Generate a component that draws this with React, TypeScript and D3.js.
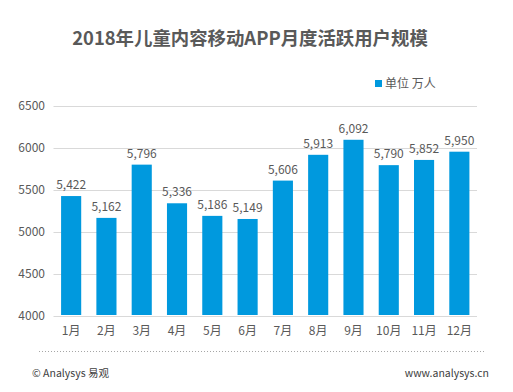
import React from "react";
import * as d3 from "d3";

const months = ["1月","2月","3月","4月","5月","6月","7月","8月","9月","10月","11月","12月"];
const values = [5422,5162,5796,5336,5186,5149,5606,5913,6092,5790,5852,5950];
const yTicks = [4000,4500,5000,5500,6000,6500];

export default function App() {
  const W = 513, H = 392;
  const left = 53.5, right = 477, top = 105.5, bottom = 315.5;
  const x = d3.scaleBand<string>().domain(months).range([left, right]).paddingInner(0.43).paddingOuter(0.215);
  const y = d3.scaleLinear().domain([4000, 6500]).range([bottom, top]);
  const fmt = d3.format(",");
  const font = "'Microsoft YaHei', 'Noto Sans CJK SC', 'DejaVu Sans', sans-serif";
  const grey = "#595959";
  return (
    <svg width={W} height={H} style={{ position: "absolute", left: 0, top: 0, background: "#fff" }} fontFamily={font}>
      <text x={250} y={45} textAnchor="middle" fontSize={18.4} fontWeight="bold" fill={grey}>2018年儿童内容移动APP月度活跃用户规模</text>
      <rect x={375} y={80} width={7} height={7} fill="#0099de" />
      <text x={385} y={88} fontSize={12} fill={grey}>单位  万人</text>
      {yTicks.map(t => (
        <g key={t}>
          <line x1={left} x2={right} y1={Math.round(y(t)) + 0.5} y2={Math.round(y(t)) + 0.5} stroke="#d9d9d9" strokeWidth={1} />
          <text x={45} y={y(t) + 4} textAnchor="end" fontSize={12} fill={grey}>{t}</text>
        </g>
      ))}
      {values.map((v, i) => (
        <g key={months[i]}>
          <rect x={x(months[i])} y={y(v)} width={x.bandwidth()} height={bottom - 0.5 - y(v)} fill="#0099de" />
          <text x={(x(months[i]) as number) + x.bandwidth() / 2} y={y(v) - 7} textAnchor="middle" fontSize={12} fill={grey}>{fmt(v)}</text>
          <text x={(x(months[i]) as number) + x.bandwidth() / 2} y={335} textAnchor="middle" fontSize={12} fill={grey}>{months[i]}</text>
        </g>
      ))}
      <line x1={39} x2={484} y1={351.5} y2={351.5} stroke="#a6a6a6" strokeDasharray="1,2" />
      <text x={32} y={377} fontSize={10.5} fill="#404040">© Analysys 易观</text>
      <text x={489} y={377} textAnchor="end" fontSize={10.5} fill="#404040">www.analysys.cn</text>
    </svg>
  );
}
